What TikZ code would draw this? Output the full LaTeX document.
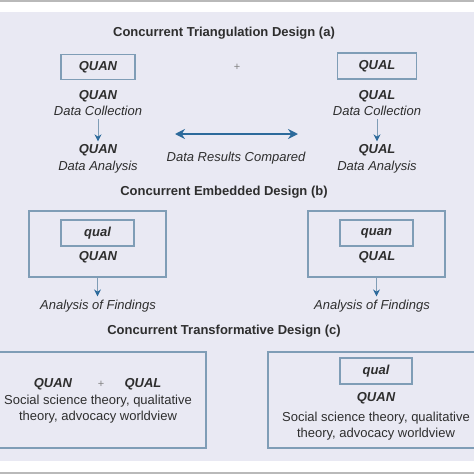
\documentclass[tikz,border=0pt]{standalone}
\usepackage{fontspec}
\setmainfont{Liberation Sans}
\usetikzlibrary{arrows.meta}
\definecolor{panel}{HTML}{E9E9F3}
\definecolor{frame}{HTML}{7F9DB6}
\definecolor{arrowblue}{HTML}{2C6A9B}
\definecolor{ink}{HTML}{2E2E2E}
\tikzset{>=stealth}

\begin{document}
\begin{tikzpicture}[x=1pt,y=-1pt,
    title/.style={font=\fontsize{13}{15}\selectfont\bfseries, text=ink},
    txt/.style={font=\fontsize{13}{16.5}\selectfont, text=ink, align=center},
    itxt/.style={font=\fontsize{13}{16.5}\selectfont\itshape, text=ink, align=center},
    box/.style={draw=frame, line width=1.1pt, inner sep=0pt},
    down/.style={draw=frame, line width=1pt, -{Stealth[length=7pt,width=7pt,color=arrowblue]}}]
    % background
    \useasboundingbox (0,0) rectangle (474,474);
    \clip (0,0) rectangle (474,474);
    \fill[gray!55] (0,0) rectangle (474,474);
    \fill[white] (0,2) rectangle (474,472);
    \fill[panel] (0,12) rectangle (474,461);
    % (a)
    \node[title] (ta) at (224,33) {Concurrent Triangulation Design (a)};
    \node[box, minimum width=74pt, minimum height=25pt, itxt] (quanA) at (98,67) {\bfseries QUAN};
    \node[box, minimum width=79pt, minimum height=26pt, itxt] (qualA) at (377,66) {\bfseries QUAL};
    \node[txt, font=\fontsize{11}{12}\selectfont, text=ink!60] (plus) at (237,67) {+};
    \node[itxt] (quanColl) at (98,103) {\bfseries QUAN\\Data Collection};
    \node[itxt] (quanAna) at (98,159) {\bfseries QUAN\\Data Analysis};
    \node[itxt] (qualColl) at (377,103) {\bfseries QUAL\\Data Collection};
    \node[itxt] (qualAna) at (377,159) {\bfseries QUAL\\Data Analysis};
    \draw[down] (quanColl) -- (quanAna);
    \draw[down] (qualColl) -- (qualAna);
    \coordinate (cmpL) at (175,134);
    \coordinate (cmpR) at (298,134);
    \draw[arrowblue, line width=2pt, {Stealth[length=10pt,width=10pt]}-{Stealth[length=10pt,width=10pt]}] (cmpL) -- (cmpR);
    \node[itxt] (cmp) at (236,158) {Data Results Compared};
    % (b)
    \node[title] (tb) at (224,192) {Concurrent Embedded Design (b)};
    \node[box, minimum width=137pt, minimum height=66pt] (embL) at (97.5,244) {};
    \node[box, minimum width=73pt, minimum height=26pt, itxt] (qualB) at (97.5,233) {\bfseries qual};
    \node[itxt] (quanB) at (98,257) {\bfseries QUAN};
    \node[box, minimum width=137pt, minimum height=66pt] (embR) at (376.5,244) {};
    \node[box, minimum width=73pt, minimum height=26pt, itxt] (quanBs) at (376.5,233) {\bfseries quan};
    \node[itxt] (qualBb) at (377,257) {\bfseries QUAL};
    \node[itxt] (findL) at (98,306) {Analysis of Findings};
    \node[itxt] (findR) at (372,306) {Analysis of Findings};
    \draw[down] (embL.south) -- (embL.south |- findL.north);
    \draw[down] (embR.south) -- (embR.south |- findR.north);
    % (c)
    \node[title] (tc) at (224,331) {Concurrent Transformative Design (c)};
    \node[box, minimum width=212pt, minimum height=96pt] (trL) at (100,400) {};
    \node[itxt] (quanC) at (53,384) {\bfseries QUAN};
    \node[txt, font=\fontsize{11}{12}\selectfont, text=ink!60] (plusC) at (101,384) {+};
    \node[itxt] (qualC) at (143,384) {\bfseries QUAL};
    \node[txt] (theoryL) at (98,409) {Social science theory, qualitative\\theory, advocacy worldview};
    \node[box, minimum width=214pt, minimum height=96pt] (trR) at (375,400) {};
    \node[box, minimum width=72pt, minimum height=26pt, itxt] (qualCs) at (376,371) {\bfseries qual};
    \node[itxt] (quanCb) at (376,398) {\bfseries QUAN};
    \node[txt] (theoryR) at (376,426) {Social science theory, qualitative\\theory, advocacy worldview};
\end{tikzpicture}
\end{document}
